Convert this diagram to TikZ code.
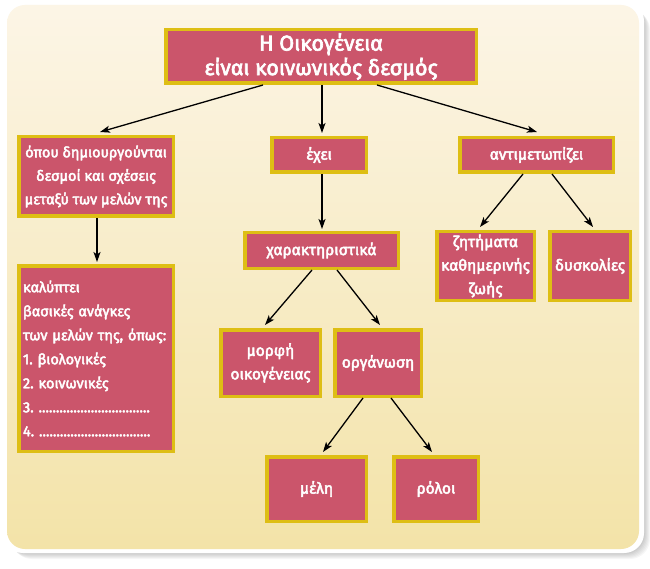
\documentclass[tikz,border=0pt]{standalone}
\usepackage{fontspec}
\newfontfamily\hand{Fira Sans}[FakeBold=3]
\usetikzlibrary{arrows.meta}
\definecolor{boxfill}{RGB}{203,85,107}
\definecolor{boxline}{RGB}{222,190,20}
\definecolor{bgtop}{RGB}{252,245,230}
\definecolor{bgbot}{RGB}{243,227,168}
\frenchspacing
\begin{document}
\begin{tikzpicture}[x=1pt,y=-1pt,
  box/.style={draw=boxline, fill=boxfill, line width=3.5pt, text=white, inner sep=0pt, align=center,
    font=\hand\fontsize{15.5pt}{23.5pt}\selectfont},
  arr/.style={-{Stealth[length=10pt,width=7pt,inset=2.5pt]}, line width=1.3pt, black}]
\useasboundingbox (0,0) rectangle (650,569);
% panel shadow
\foreach \i in {1,...,6}{
  \fill[black,opacity=0.035,rounded corners=20pt] (6+\i,4+\i) rectangle (644+\i,553+\i);
}
\fill[white,rounded corners=20pt] (3,1) rectangle (644,553);
\shade[top color=bgtop,bottom color=bgbot,rounded corners=18pt] (7,5) rectangle (639,549);

% nodes
\node[box, minimum width=310.5pt, minimum height=53.5pt, font=\hand\fontsize{21.5pt}{24.5pt}\selectfont] (top) at (321,56.5)
  {Η Οικογένεια\\είναι κοινωνικός δεσμός};
\node[box, minimum width=154.5pt, minimum height=79.5pt, font=\hand\fontsize{14.5pt}{23.5pt}\selectfont] (left1) at (96,176.5)
  {όπου δημιουργούνται\\δεσμοί και σχέσεις\\μεταξύ των μελών της};
\node[box, minimum width=154.5pt, minimum height=185.5pt, text width=146pt, align=left, font=\hand\fontsize{14.5pt}{24pt}\selectfont] (left2) at (96,358.5)
  {καλύπτει\\βασικές ανάγκες\\των μελών της, όπως:\\1. βιολογικές\\2. κοινωνικές\\3. ................................\\4. ................................};
\node[box, minimum width=94.5pt, minimum height=34.5pt] (mid1) at (319,155) {έχει};
\node[box, minimum width=153.5pt, minimum height=35.5pt] (mid2) at (321.5,250.5) {χαρακτηριστικά};
\node[box, minimum width=99.5pt, minimum height=66.5pt] (morfi) at (270.5,363) {μορφή\\οικογένειας};
\node[box, minimum width=86.5pt, minimum height=66.5pt] (organ) at (378,363) {οργάνωση};
\node[box, minimum width=99.5pt, minimum height=64.5pt] (meli) at (316.5,489) {μέλη};
\node[box, minimum width=84.5pt, minimum height=64.5pt] (roloi) at (436,489) {ρόλοι};
\node[box, minimum width=153.5pt, minimum height=34.5pt] (right1) at (536.5,155) {αντιμετωπίζει};
\node[box, minimum width=97.5pt, minimum height=68.5pt] (zit) at (485.5,266) {ζητήματα\\καθημερινής\\ζωής};
\node[box, minimum width=80.5pt, minimum height=68.5pt] (dysk) at (590,266) {δυσκολίες};

% connectors
\draw[arr] ([xshift=-58pt]top.south) -- ([xshift=4pt,yshift=3pt]left1.north);
\draw[arr] ([xshift=1pt]top.south) -- ([xshift=3pt,yshift=3pt]mid1.north);
\draw[arr] ([xshift=56pt]top.south) -- ([xshift=0.5pt,yshift=4pt]right1.north);
\draw[arr] ([xshift=3pt]mid1.south) -- ([xshift=0.5pt,yshift=2pt]mid2.north);
\draw[arr] ([xshift=-9.5pt]mid2.south) -- ([xshift=-5.5pt,yshift=3pt]morfi.north);
\draw[arr] ([xshift=15.5pt]mid2.south) -- ([xshift=2pt,yshift=3pt]organ.north);
\draw[arr] ([xshift=-15pt]organ.south) -- ([xshift=6.5pt,yshift=3pt]meli.north);
\draw[arr] ([xshift=13pt]organ.south) -- ([xshift=-4pt,yshift=3pt]roloi.north);
\draw[arr] ([xshift=1pt]left1.south) -- ([xshift=1pt,yshift=2pt]left2.north);
\draw[arr] ([xshift=-13.5pt]right1.south) -- ([xshift=-5.5pt,yshift=3pt]zit.north);
\draw[arr] ([xshift=15.5pt]right1.south) -- ([xshift=3pt,yshift=3pt]dysk.north);
\end{tikzpicture}
\end{document}
